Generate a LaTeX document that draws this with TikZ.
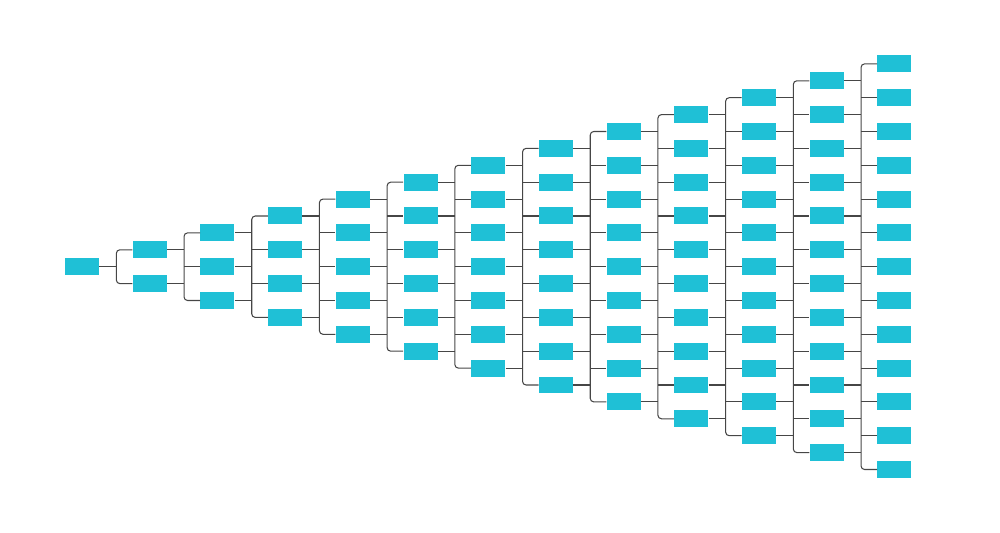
\documentclass[tikz,border=0pt]{standalone}
\usepackage[dvipsnames]{xcolor}
\definecolor{boxcyan}{RGB}{31,192,214}
\definecolor{linegray}{RGB}{70,70,70}

\begin{document}
\begin{tikzpicture}[x=0.02cm,y=-0.02cm,
    box/.style={rectangle, fill=boxcyan, minimum width=0.68cm, minimum height=0.34cm, inner sep=0pt},
    link/.style={draw=linegray, line width=0.6pt, rounded corners=2pt}]

                \useasboundingbox (0,0) rectangle (1000,533);

                % columns of boxes, column k holds k+1 boxes
                \foreach \k in {0,...,12}{
                    \foreach \j in {0,...,\k}{
                        \node[box] (b-\k-\j) at ({82+67.7*\k},{266.7+(\j-\k/2)*33.8}) {};
                    }
                }

                % each box leads to the fork in front of the next column
                \foreach \k in {0,...,11}{
                    \pgfmathtruncatemacro{\n}{\k+1}
                    \foreach \j in {0,...,\k}{
                        \draw[link] (b-\k-\j.east) -- ++(17,0) coordinate (f-\k-\j);
                    }
                    % the fork bar: rounded at its two ends
                    \draw[link] (b-\n-0.west) -| (f-\k-0) |- (b-\n-\n.west);
                    \ifnum\k>0
                    \foreach \j in {1,...,\k}{
                        \draw[link] (f-\k-0 |- b-\n-\j.west) -- (b-\n-\j.west);
                    }
                    \fi
                }
            \end{tikzpicture}
\end{document}
